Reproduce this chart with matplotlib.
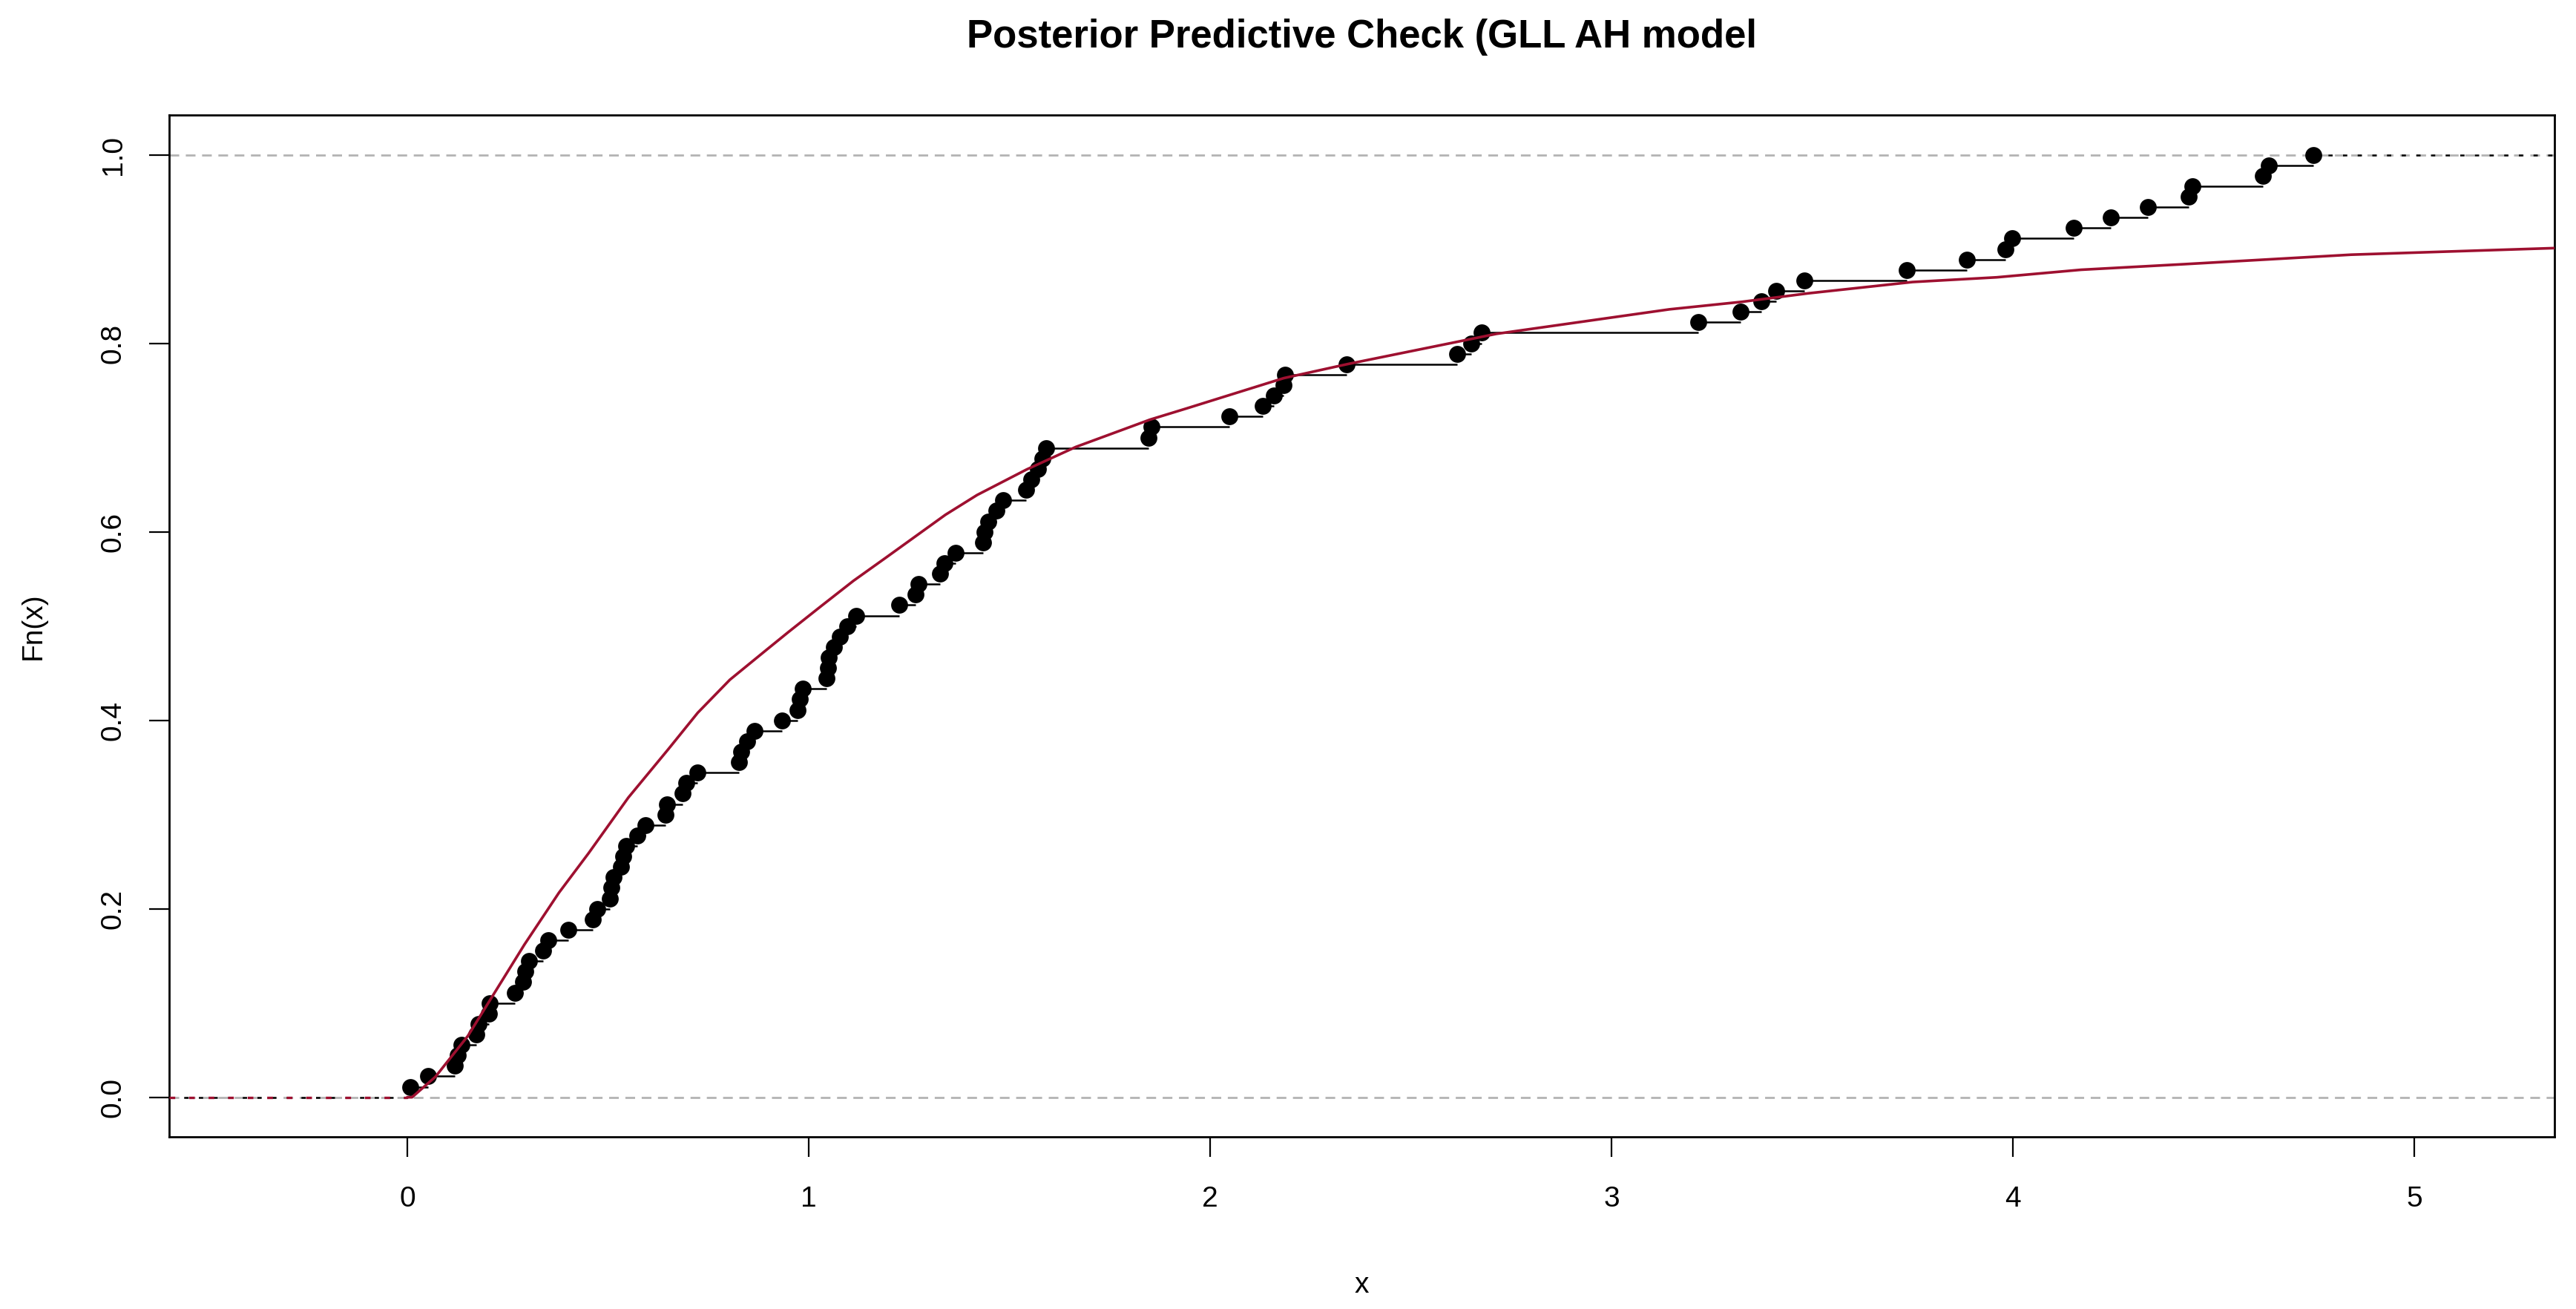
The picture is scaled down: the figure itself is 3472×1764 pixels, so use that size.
import numpy as np
import matplotlib
matplotlib.use("Agg")
import matplotlib.pyplot as plt

plt.rcParams['font.family'] = ['Liberation Sans', 'DejaVu Sans']

obs_x = [0.006, 0.051, 0.118, 0.125, 0.134, 0.171, 0.177, 0.202, 0.205, 0.267,
         0.288, 0.294, 0.303, 0.337, 0.350, 0.400, 0.461, 0.473, 0.504, 0.507,
         0.513, 0.532, 0.538, 0.544, 0.572, 0.593, 0.643, 0.647, 0.686, 0.695,
         0.723, 0.825, 0.832, 0.846, 0.864, 0.932, 0.972, 0.978, 0.984, 1.044,
         1.047, 1.050, 1.062, 1.078, 1.095, 1.118, 1.225, 1.265, 1.274, 1.326,
         1.338, 1.366, 1.434, 1.438, 1.447, 1.468, 1.484, 1.541, 1.554, 1.570,
         1.582, 1.591, 1.847, 1.853, 2.047, 2.130, 2.158, 2.183, 2.186, 2.340,
         2.615, 2.651, 2.676, 3.216, 3.322, 3.373, 3.410, 3.481, 3.736, 3.885,
         3.981, 3.998, 4.151, 4.244, 4.336, 4.438, 4.447, 4.623, 4.638, 4.749]

# posterior predictive cdf (red curve)
pred_x = [0.0, 0.011, 0.069, 0.150, 0.211, 0.291, 0.377, 0.451, 0.55, 0.649,
          0.723, 0.803, 0.895, 0.950, 1.030, 1.111, 1.190, 1.265, 1.340, 1.419,
          1.542, 1.665, 1.850, 1.942, 2.183, 2.343, 2.713, 3.144, 3.325, 3.49,
          3.75, 3.96, 4.17, 4.43, 4.843, 5.35]
pred_y = [0.0, 0.0, 0.0216, 0.065, 0.107, 0.162, 0.217, 0.259, 0.318, 0.369,
          0.408, 0.443, 0.475, 0.494, 0.521, 0.548, 0.572, 0.595, 0.618, 0.639,
          0.666, 0.690, 0.719, 0.731, 0.763, 0.778, 0.810, 0.836, 0.844, 0.853,
          0.865, 0.870, 0.878, 0.884, 0.894, 0.901]

x_ticks = [0, 1, 2, 3, 4, 5]
y_ticks = [0.0, 0.2, 0.4, 0.6, 0.8, 1.0]

red = '#9E1030'

fig = plt.figure(figsize=(17.36, 8.82), dpi=200)
ax = fig.add_axes([0.0657, 0.1315, 0.926, 0.7805])

xs = np.array(obs_x)
n = len(xs)
fn = np.arange(1, n + 1) / n
xmin, xmax = -0.594, 5.35

ax.axhline(0, color='#b3b3b3', lw=1.0, dashes=(4.7, 3.2), zorder=1)
ax.axhline(1, color='#b3b3b3', lw=1.0, dashes=(4.7, 3.2), zorder=1)

# ecdf of the data
ax.hlines(fn[:-1], xs[:-1], xs[1:], color='black', lw=0.9, zorder=3)
ax.hlines(1, xs[-1], xmax, color='black', lw=0.9, linestyles=(0, (2.3, 5.6)), zorder=2)
ax.hlines(0, xmin, xs[0], color='black', lw=0.9, linestyles=(0, (2.3, 5.6)), zorder=2)
ax.plot(xs, fn, 'o', color='black', ms=7.2, zorder=4)

# predictive cdf
ax.plot(pred_x, pred_y, color=red, lw=1.3, zorder=5)
ax.hlines(0, xmin, 0, color=red, lw=1.2, linestyles=(0, (2.3, 5.6)), zorder=5)

ax.set_xlim(xmin, xmax)
ax.set_ylim(-0.042, 1.042)
ax.set_xticks(x_ticks)
ax.set_xticklabels([str(t) for t in x_ticks])
ax.set_yticks(y_ticks)
ax.set_yticklabels(['%.1f' % t for t in y_ticks], rotation=90, va='center')
ax.tick_params(direction='out', length=9.6, width=0.8, labelsize=14)
ax.tick_params(axis='x', pad=14)
ax.tick_params(axis='y', pad=11)
for s in ax.spines.values():
    s.set_linewidth(1.0)

ax.set_xlabel('x', fontsize=14, labelpad=29)
ax.set_ylabel('Fn(x)', fontsize=14, labelpad=26)
ax.set_title('Posterior Predictive Check (GLL AH model', fontsize=19, fontweight='bold', pad=33)

fig.savefig('out.png', dpi=200)
